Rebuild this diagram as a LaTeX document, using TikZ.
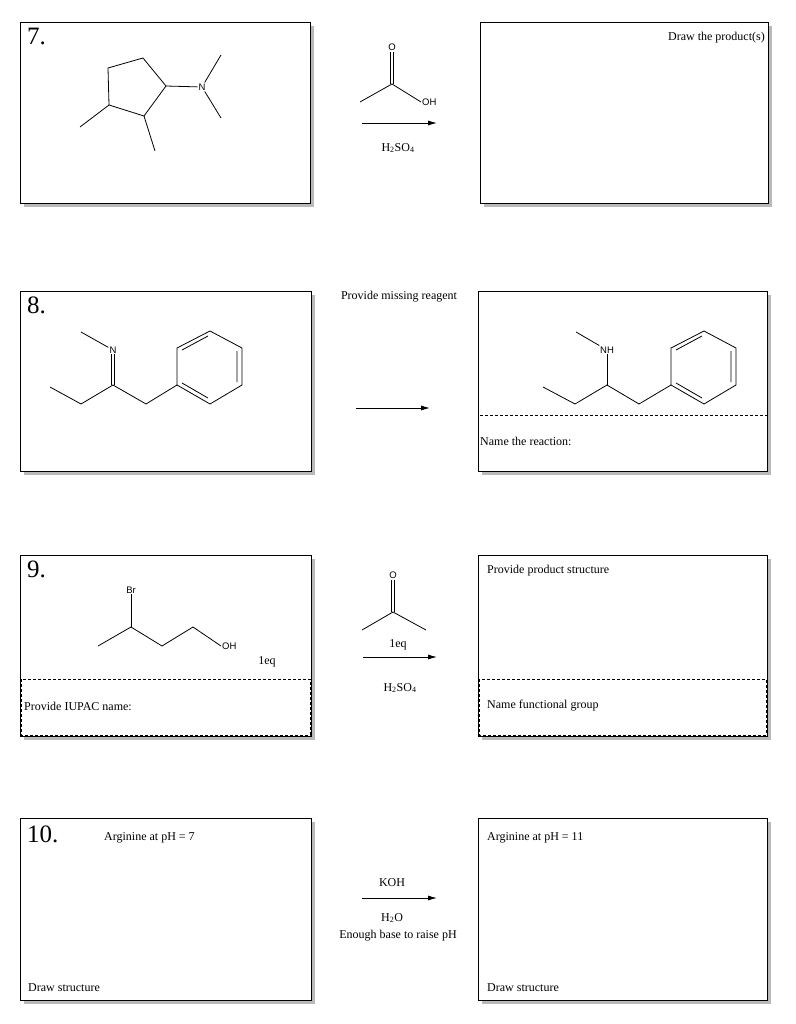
\documentclass[tikz,border=0pt]{standalone}
\usepackage{fontspec}
\setmainfont{Liberation Serif}
\newfontfamily\atomf{Liberation Sans}
\usetikzlibrary{arrows.meta}
\begin{document}
\begin{tikzpicture}[x=1pt,y=-1pt,
 bond/.style={line width=0.8pt},
 atom/.style={font=\atomf\fontsize{9.5}{10}\selectfont,inner sep=1pt,fill=white},
 txt/.style={font=\fontsize{12}{14}\selectfont,inner sep=0pt},
 num/.style={font=\fontsize{25}{27}\selectfont,inner sep=0pt,anchor=north west},
 rxn/.style={line width=0.8pt,-{Latex[length=9pt,width=5pt]}},
 sbox/.style={draw=black,line width=0.8pt,fill=white},
 dbox/.style={draw=black,densely dashed,line width=0.8pt}]
\useasboundingbox (0,0) rectangle (795,1024);
\newcommand\shbox[4]{\fill[gray!55] (#1+4,#2+4) rectangle (#3+4,#4+4);\draw[sbox] (#1,#2) rectangle (#3,#4);}
\shbox{20}{22}{310}{203}\shbox{480}{22}{768}{203}
\shbox{20}{291}{311}{471}\shbox{478}{291}{767}{471}
\shbox{20}{555}{311}{736}\shbox{478}{555}{767}{736}
\shbox{20}{818}{311}{1000}\shbox{478}{818}{767}{1000}
\draw[dbox] (478,415) rectangle (767,471);
\draw[dbox] (21,679) rectangle (310,735);
\draw[dbox] (479,679) rectangle (766,735);
% 7
\node[num] (n7) at (27,28) {7.};
\coordinate (a1) at (108,68);\coordinate (a2) at (143,58);\coordinate (a3) at (166,86);
\coordinate (a4) at (144,116);\coordinate (a5) at (109,105);
\node[atom] (N7) at (202,87) {N};
\draw[bond] (a1)--(a2)--(a3)--(a4)--(a5)--cycle;
\draw[bond] (a3)--(N7); \draw[bond] (N7)--(221,55); \draw[bond] (N7)--(221,118);
\draw[bond] (a5)--(80,127); \draw[bond] (a4)--(155,151);
\node[txt,anchor=north east] (t7) at (765,32) {Draw the product(s)};
\coordinate (ac) at (392,84);
\node[atom] (O7) at (392,47) {O}; \node[atom,anchor=west] (OH7) at (421,102) {OH};
\draw[bond] (ac)--(360,102); \draw[bond] (ac)--(OH7.west);
\draw[bond] ([xshift=-1.5]ac)--([xshift=-1.5]O7.south); \draw[bond] ([xshift=1.5]ac)--([xshift=1.5]O7.south);
\draw[rxn] (362,123)--(437,123);
\node[txt] (h7) at (398,148) {H\textsubscript{2}SO\textsubscript{4}};
% 8
\node[num] (n8) at (27,297) {8.};
\node[txt] (pm) at (399,297) {Provide missing reagent};
\node[atom] (N8) at (113,350) {N};
\draw[bond] (N8)--(81,332);
\draw[bond] ([xshift=-1.5]N8.south)--(111.5,385); \draw[bond] ([xshift=1.5]N8.south)--(114.5,385);
\draw[bond] (50,387)--(81,404)--(113,385)--(146,404)--(177,385);
\draw[bond] (177,385)--(177,348)--(210,331)--(242,348)--(242,385)--(210,404)--cycle;
\draw[bond] (182,350)--(208,336) (237,351)--(237,382) (182,383)--(208,398);
\draw[rxn] (356,408)--(430,408);
\node[atom] (N8b) at (607,350) {NH};
\draw[bond] (N8b)--(576,332); \draw[bond] (N8b)--(607,385);
\draw[bond] (543,387)--(575,404)--(607,385)--(639,404)--(671,385);
\begin{scope}[shift={(494,0)}]
\draw[bond] (177,385)--(177,348)--(210,331)--(242,348)--(242,385)--(210,404)--cycle;
\draw[bond] (182,350)--(208,336) (237,351)--(237,382) (182,383)--(208,398);
\end{scope}
\node[txt,anchor=west] (nr) at (480,441) {Name the reaction:};
% 9
\node[num] (n9) at (27,561) {9.};
\node[atom] (Br) at (131,590) {Br};
\node[atom,anchor=west] (OH9) at (221,646) {OH};
\draw[bond] (Br)--(131,627);
\draw[bond] (98,646)--(131,627)--(162,646)--(193,627)--(OH9.west);
\node[txt] (e1) at (267,662) {1eq};
\node[txt,anchor=west] (iu) at (24,706) {Provide IUPAC name:};
\node[atom] (O9) at (393,575) {O};
\draw[bond] (362,630)--(393,612)--(426,630);
\draw[bond] (391.5,612)--([xshift=-1.5]O9.south); \draw[bond] (394.5,612)--([xshift=1.5]O9.south);
\node[txt] (e2) at (398,645) {1eq};
\draw[rxn] (363,657)--(437,657);
\node[txt] (h9) at (400,688) {H\textsubscript{2}SO\textsubscript{4}};
\node[txt,anchor=west] (pp) at (487,571) {Provide product structure};
\node[txt,anchor=west] (fg) at (487,706) {Name functional group};
% 10
\node[num] (n10) at (27,826) {10.};
\node[txt,anchor=west] (ar7) at (104,838) {Arginine at pH = 7};
\node[txt,anchor=west] (ds1) at (28,988) {Draw structure};
\node[txt] (koh) at (392,883) {KOH};
\draw[rxn] (362,898)--(437,898);
\node[txt] (h2o) at (392,918) {H\textsubscript{2}O};
\node[txt] (eb) at (398,936) {Enough base to raise pH};
\node[txt,anchor=west] (ar11) at (487,838) {Arginine at pH = 11};
\node[txt,anchor=west] (ds2) at (487,988) {Draw structure};
\end{tikzpicture}
\end{document}
